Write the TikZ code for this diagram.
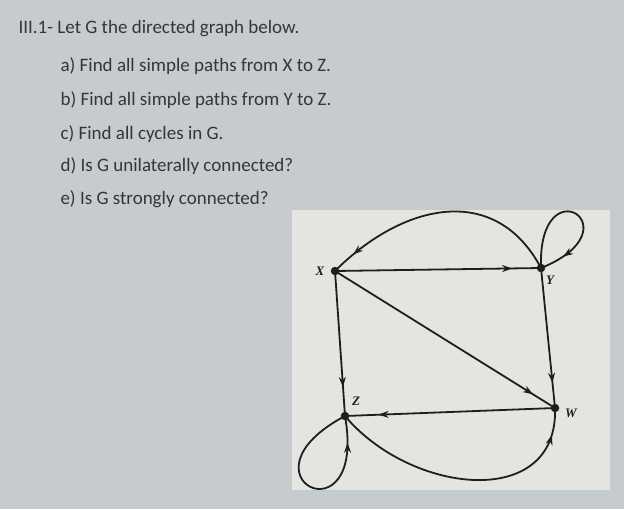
\documentclass[tikz,border=0pt]{standalone}
\usepackage{fontspec}
\setmainfont{Carlito}
\newfontfamily\labelfont{Liberation Serif}
\usetikzlibrary{arrows.meta,decorations.markings}

\definecolor{screengrey}{RGB}{198,203,205}
\definecolor{papergrey}{RGB}{228,228,225}
\definecolor{inkgrey}{RGB}{52,54,56}
\definecolor{inkblack}{RGB}{30,30,30}

\tikzset{
  vertex/.style={circle,fill=inkblack,inner sep=0pt,minimum size=8.5pt},
  vlabel/.style={font=\labelfont\fontsize{13}{14}\selectfont\bfseries\itshape,text=inkblack},
  arc/.style={draw=inkblack,line width=1.8pt},
  arrowat/.style={postaction={decorate},
    decoration={markings,mark=at position #1 with {\arrow{Stealth[length=10pt,width=7pt]}}}},
  question/.style={anchor=west,text=inkgrey,font=\fontsize{19}{22}\selectfont}
}

\begin{document}
\begin{tikzpicture}[x=1pt,y=-1pt]
\fill[screengrey] (0,0) rectangle (624,509);
\useasboundingbox (0,0) rectangle (624,509);
\fill[papergrey] (292,210) rectangle (610,490);

% questions
\node[question] (head) at (15,29) {III.1- Let G the directed graph below.};
\node[question] (qa) at (57,66) {a) Find all simple paths from X to Z.};
\node[question] (qb) at (57,100) {b) Find all simple paths from Y to Z.};
\node[question] (qc) at (57,134) {c) Find all cycles in G.};
\node[question] (qd) at (57,166) {d) Is G unilaterally connected?};
\node[question] (qe) at (57,199) {e) Is G strongly connected?};

% the graph
\begin{scope}[every node/.style={vertex}]
    \node (X) at (335,271) {};
    \node (Y) at (541,268) {};
    \node (W) at (555,408) {};
    \node (Z) at (345,416) {};
\end{scope}
\begin{scope}[every node/.style={vlabel}]
    \node at (320,271) {X};
    \node at (550,280) {Y};
    \node at (356,401) {Z};
    \node at (571,413) {W};
\end{scope}
\begin{scope}[every edge/.style={arc}]
    \path (X.center) edge[arrowat=0.86] (Y.center);
    \path (Y.center) edge[arrowat=0.82] (W.center);
    \path (X.center) edge[arrowat=0.9] (W.center);
    \path (X.center) edge[arrowat=0.8] (Z.center);
    \path (W.center) edge[arrowat=0.84] (Z.center);
    \path (Y.center) edge[arrowat=0.9,out=118,in=45,looseness=1.2] (X.center);
    \path (Z.center) edge[arrowat=0.9,out=-50,in=-88,looseness=1.25] (W.center);
    \path (Y.center) edge[arrowat=0.84,out=92,in=22,distance=105pt] (Y.center);
    \path (Z.center) edge[arrowat=0.86,out=208,in=280,distance=130pt] (Z.center);
\end{scope}
\end{tikzpicture}
\end{document}
